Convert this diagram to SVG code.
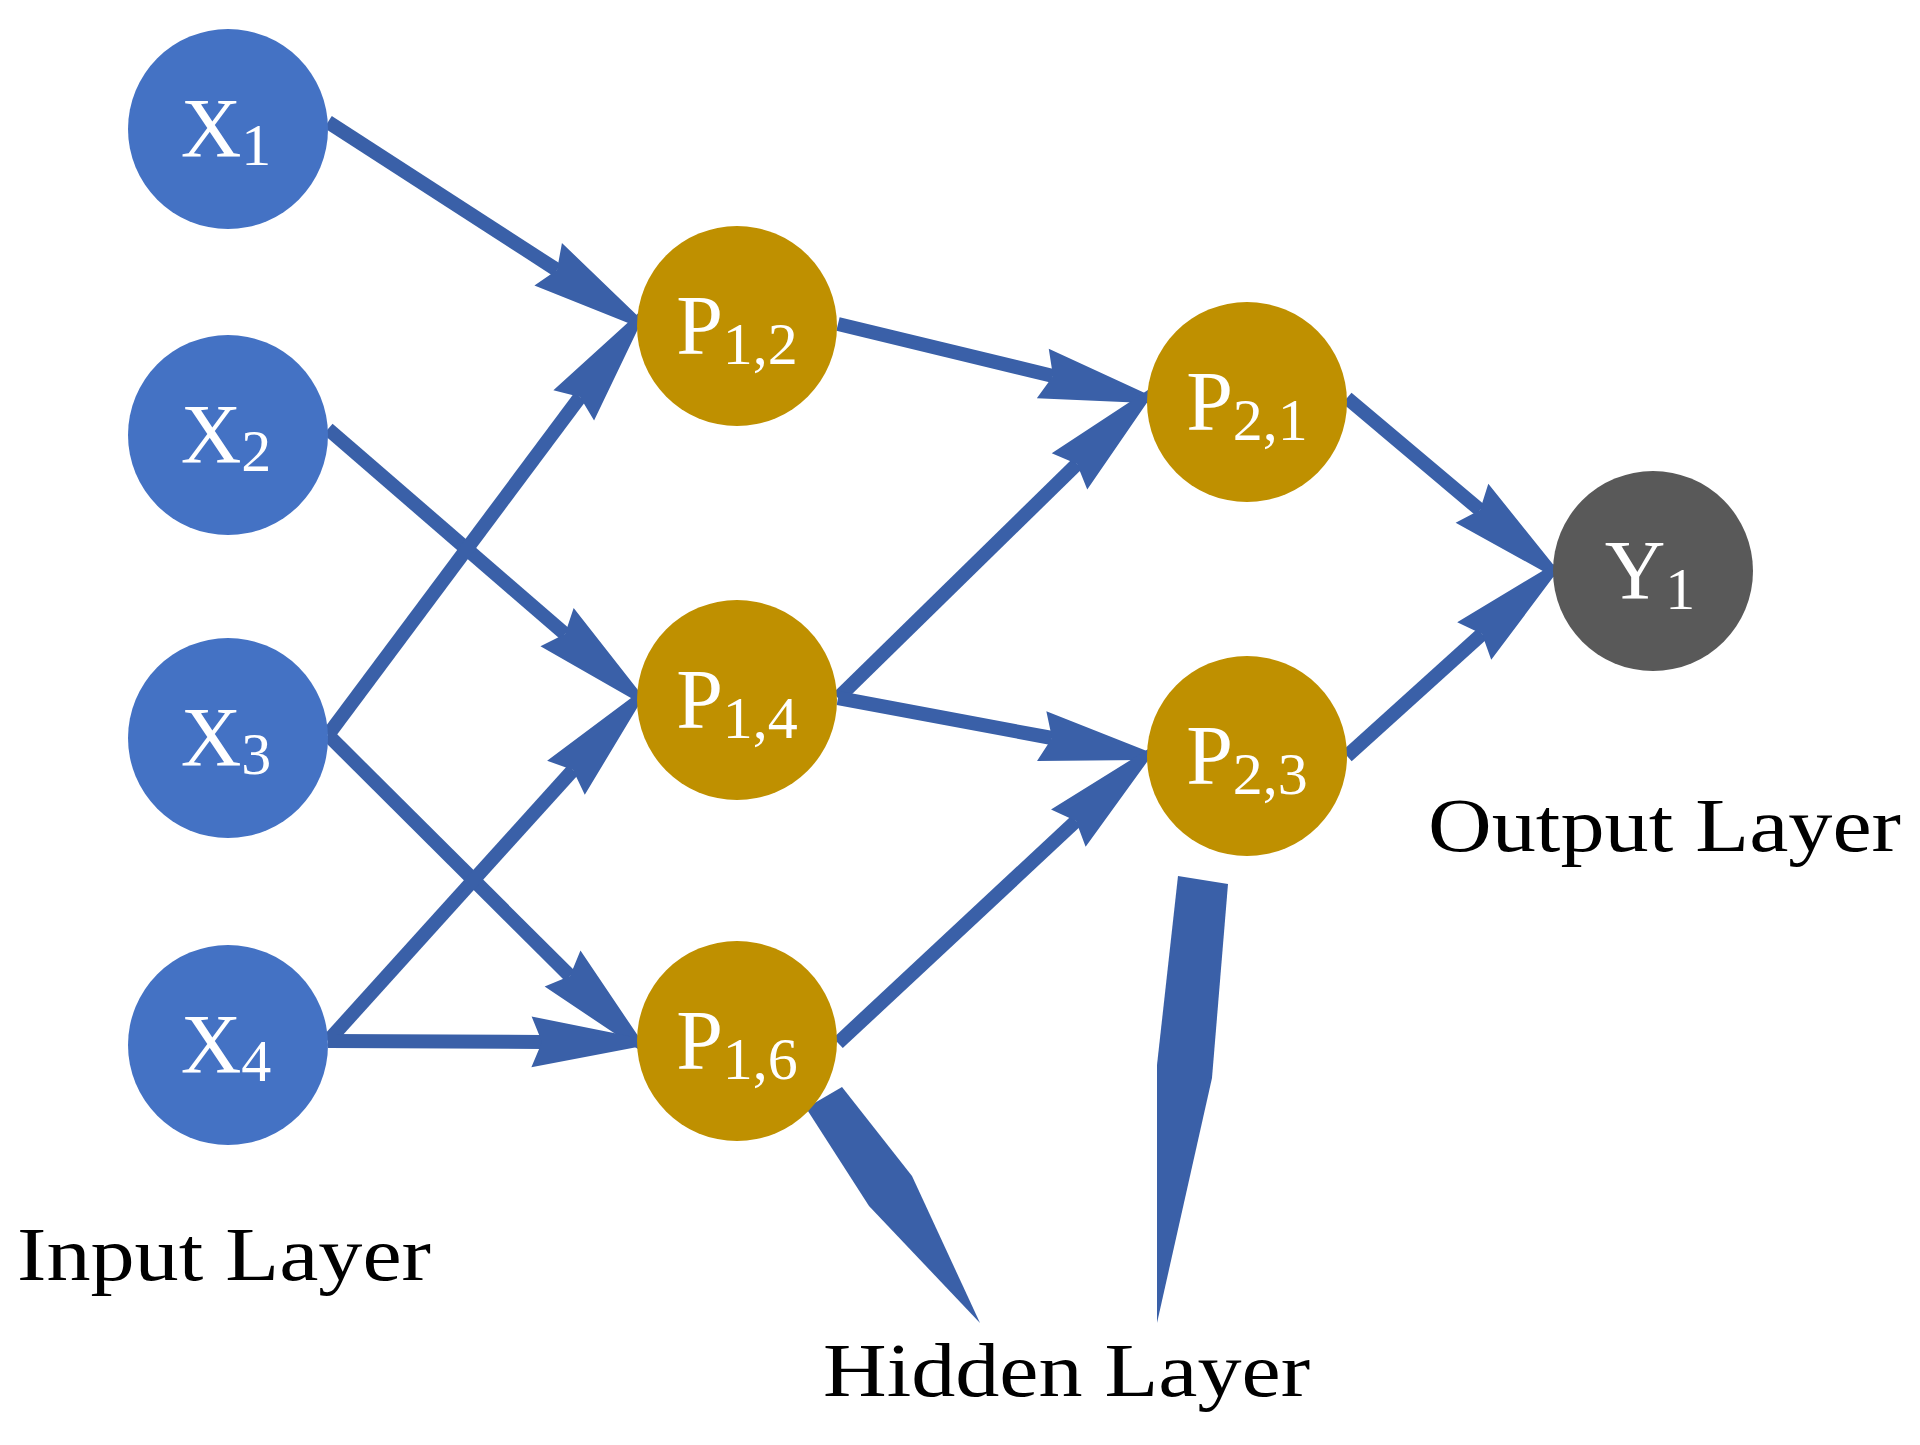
<svg xmlns="http://www.w3.org/2000/svg" width="1920" height="1445" viewBox="0 0 1920 1445">
<style>
.in{fill:#4472C4}.hid{fill:#BF9000}.out{fill:#595959}
.lbl{font-family:"Liberation Serif",serif;font-size:84px;fill:#fff;text-anchor:middle}
.sub{font-size:60px}
.cap{font-family:"Liberation Serif",serif;font-size:76px;fill:#000}
.ar{stroke:#3A60A8;stroke-width:14;fill:none;marker-end:url(#ah)}
.wedge{fill:#3A60A8}
</style>
<defs>
<marker id="ah" markerUnits="strokeWidth" markerWidth="10" markerHeight="4" viewBox="-1 -1.6 8 3.2" refX="0" refY="0" orient="auto" overflow="visible">
<path d="M-0.6,-1.45 L6.8,0 L-0.6,1.45 L0,0 z" fill="#3A60A8"/>
</marker>
</defs>
<g id="connectors">
<line class="ar" x1="328" y1="122" x2="557" y2="270"/>
<line class="ar" x1="328" y1="429" x2="565" y2="634"/>
<line class="ar" x1="328" y1="735" x2="580" y2="397"/>
<line class="ar" x1="328" y1="735" x2="570" y2="976"/>
<line class="ar" x1="328" y1="1041" x2="573" y2="770"/>
<line class="ar" x1="328" y1="1041" x2="542" y2="1042"/>
<line class="ar" x1="838" y1="324" x2="1053" y2="376"/>
<line class="ar" x1="838" y1="698" x2="1077" y2="464"/>
<line class="ar" x1="838" y1="698" x2="1052" y2="738"/>
<line class="ar" x1="838" y1="1043" x2="1076" y2="821"/>
<line class="ar" x1="1347" y1="398" x2="1480" y2="510"/>
<line class="ar" x1="1347" y1="756" x2="1482" y2="634"/>
<polygon class="wedge" points="806,1108 842,1087 912,1176 980,1323 869,1206"/>
<polygon class="wedge" points="1178,876 1228,884 1212,1078 1157,1323 1157,1065"/>
</g>
<g id="X1"><circle class="in" cx="228" cy="129" r="100"/><text class="lbl" x="226" y="157">X<tspan class="sub" dy="8">1</tspan></text></g>
<g id="X2"><circle class="in" cx="228" cy="435" r="100"/><text class="lbl" x="226" y="463">X<tspan class="sub" dy="8">2</tspan></text></g>
<g id="X3"><circle class="in" cx="228" cy="738" r="100"/><text class="lbl" x="226" y="766">X<tspan class="sub" dy="8">3</tspan></text></g>
<g id="X4"><circle class="in" cx="228" cy="1045" r="100"/><text class="lbl" x="226" y="1073">X<tspan class="sub" dy="8">4</tspan></text></g>
<g id="P12"><circle class="hid" cx="737" cy="326" r="100"/><text class="lbl" x="737" y="354">P<tspan class="sub" dy="10">1,2</tspan></text></g>
<g id="P14"><circle class="hid" cx="737" cy="700" r="100"/><text class="lbl" x="737" y="728">P<tspan class="sub" dy="10">1,4</tspan></text></g>
<g id="P16"><circle class="hid" cx="737" cy="1041" r="100"/><text class="lbl" x="737" y="1069">P<tspan class="sub" dy="10">1,6</tspan></text></g>
<g id="P21"><circle class="hid" cx="1247" cy="402" r="100"/><text class="lbl" x="1247" y="430">P<tspan class="sub" dy="10">2,1</tspan></text></g>
<g id="P23"><circle class="hid" cx="1247" cy="756" r="100"/><text class="lbl" x="1247" y="784">P<tspan class="sub" dy="10">2,3</tspan></text></g>
<g id="Y1"><circle class="out" cx="1653" cy="571" r="100"/><text class="lbl" x="1650" y="599">Y<tspan class="sub" dy="10">1</tspan></text></g>
<text class="cap" x="17" y="1280" textLength="414" lengthAdjust="spacingAndGlyphs">Input Layer</text>
<text class="cap" x="823" y="1396" textLength="487" lengthAdjust="spacingAndGlyphs">Hidden Layer</text>
<text class="cap" x="1428" y="851" textLength="473" lengthAdjust="spacingAndGlyphs">Output Layer</text>
</svg>
